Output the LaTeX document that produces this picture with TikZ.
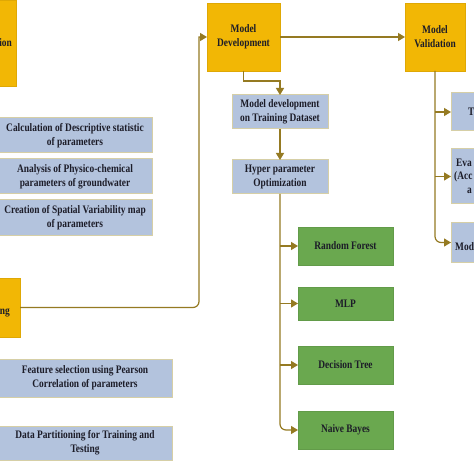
\documentclass[tikz,border=0pt]{standalone}
\usepackage{fontspec}
\setmainfont{Liberation Serif}[FakeStretch=0.82]
\usetikzlibrary{arrows.meta}
\definecolor{conncol}{HTML}{957A22}
\definecolor{orng}{HTML}{F2B705}
\definecolor{blu}{HTML}{B3C3DD}
\definecolor{bluedge}{HTML}{D6CFA6}
\definecolor{grn}{HTML}{6AA84F}
\definecolor{txt}{HTML}{1C1C28}
\begin{document}
\begin{tikzpicture}[x=1bp,y=-1bp,
 box/.style={rectangle,inner sep=0pt,outer sep=0pt,align=center,font=\fontsize{11.5}{14}\selectfont\bfseries,text=txt},
 orangebox/.style={box,fill=orng,draw=orng!92!black,line width=0.4bp},
 bluebox/.style={box,fill=blu,draw=bluedge,line width=1bp},
 greenbox/.style={box,fill=grn,draw=grn!92!black,line width=0.4bp},
 lbl/.style={inner sep=0pt,font=\fontsize{11.5}{14}\selectfont\bfseries,text=txt},
 conn/.style={draw=conncol,line width=1.2bp},
 arr/.style={conn,-{Triangle[length=7bp,width=8bp]}}
]
\useasboundingbox (0,0) rectangle (474,474);
\clip (0,0) rectangle (474,474);
\fill[white] (0,0) rectangle (474,474);

% left column
\node[orangebox,minimum width=76bp,minimum height=86bp] (tlbox) at (-22,43) {};
\node[lbl,anchor=east] (tltext) at (12,43) {ion};
\node[bluebox,minimum width=154bp,minimum height=35bp] (b1) at (75,135.5) {Calculation of Descriptive statistic\\of parameters};
\node[bluebox,minimum width=154bp,minimum height=35bp] (b2) at (75,176.5) {Analysis of Physico-chemical\\parameters of groundwater};
\node[bluebox,minimum width=154bp,minimum height=35bp] (b3) at (75,217.5) {Creation of Spatial Variability map\\of parameters};
\node[orangebox,minimum width=80bp,minimum height=59bp] (blbox) at (-20,307.5) {};
\node[lbl,anchor=east] (bltext) at (10,313) {ng};
\node[bluebox,minimum width=174bp,minimum height=38bp] (b4) at (85,378) {Feature selection using Pearson\\Correlation of parameters};
\node[bluebox,minimum width=174bp,minimum height=34bp] (b5) at (85,443) {Data Partitioning for Training and\\Testing};

% middle column
\node[orangebox,minimum width=73bp,minimum height=68bp] (md) at (243.5,37) {Model\\Development};
\node[bluebox,minimum width=96bp,minimum height=34bp] (mdt) at (280,112) {Model development\\on Training Dataset};
\node[bluebox,minimum width=96bp,minimum height=34bp] (hyp) at (280,177) {Hyper parameter\\Optimization};
\node[greenbox,minimum width=95bp,minimum height=38bp] (rf) at (345.5,246) {Random Forest};
\node[greenbox,minimum width=95bp,minimum height=33bp] (mlp) at (345.5,303.5) {MLP};
\node[greenbox,minimum width=95bp,minimum height=38bp] (dt) at (345.5,365) {Decision Tree};
\node[greenbox,minimum width=95bp,minimum height=38bp] (nb) at (345.5,430) {Naive Bayes};

% right column
\node[orangebox,minimum width=60bp,minimum height=68bp] (mv) at (435,37) {Model\\Validation};
\node[bluebox,minimum width=39bp,minimum height=38bp] (tb) at (470.5,112) {};
\node[lbl,anchor=west] (tbt) at (468,112) {T};
\node[bluebox,minimum width=39bp,minimum height=55bp] (eb) at (470.5,176.5) {};
\node[lbl,anchor=west] (ebt1) at (456,162.5) {Eva};
\node[lbl,anchor=west] (ebt2) at (454,176.5) {(Acc};
\node[lbl,anchor=west] (ebt3) at (467,190.5) {a};
\node[bluebox,minimum width=39bp,minimum height=39bp] (mb) at (470.5,242.5) {};
\node[lbl,anchor=west] (mbt) at (455,247) {Mod};

% connectors
\draw[arr] (blbox.east) [rounded corners=6bp] -- (199,307.5) [sharp corners] -- (199,37) -- (md.west);
\draw[arr] (md.east) -- (mv.west);
\draw[arr] (md.south) -- ++(0,10) -| (mdt.north);
\draw[arr] (mdt) -- (hyp);
\draw[arr,rounded corners=6bp] (hyp.south) |- (nb.west);
\draw[arr] (hyp.south |- rf.west) -- (rf.west);
\draw[arr] (hyp.south |- mlp.west) -- (mlp.west);
\draw[arr] (hyp.south |- dt.west) -- (dt.west);
\draw[arr,rounded corners=6bp] (mv.south) |- (mb.west);
\draw[arr] (mv.south |- tb.west) -- (tb.west);
\draw[arr] (mv.south |- eb.west) -- (eb.west);
\end{tikzpicture}
\end{document}
